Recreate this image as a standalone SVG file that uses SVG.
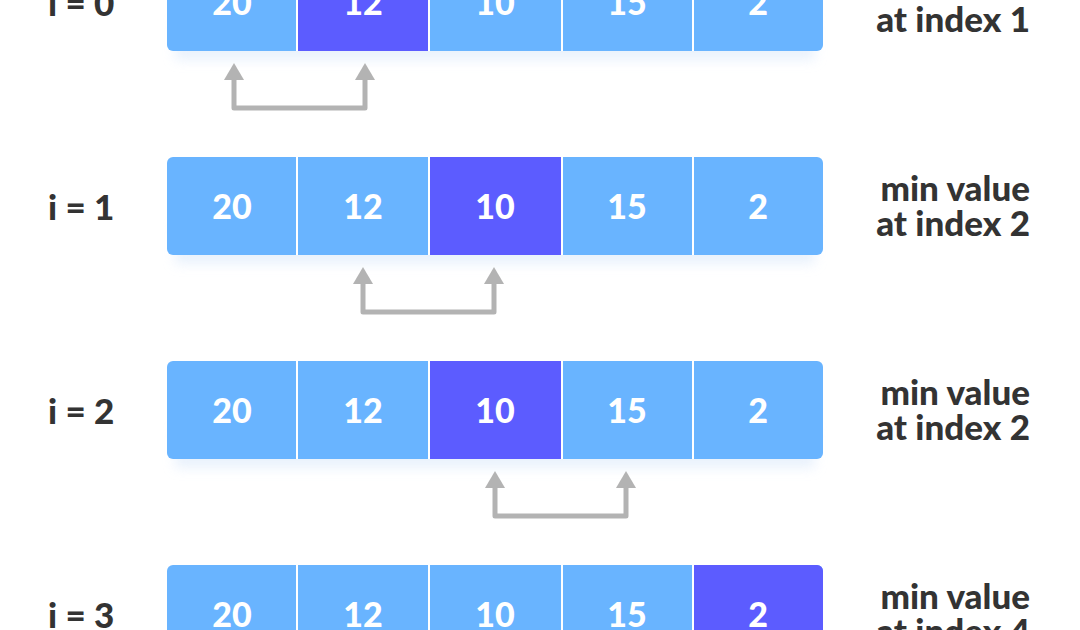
<svg xmlns="http://www.w3.org/2000/svg" width="1080" height="630" viewBox="0 0 1080 630">
<style>
.c{fill:#69b4ff}.m{fill:#5c5cff}
.n{font-family:Lato,"Liberation Sans",sans-serif;font-weight:900;font-size:34px;fill:#fff;text-anchor:middle}
.l{font-family:Lato,"Liberation Sans",sans-serif;font-weight:900;font-size:35px;fill:#333}
.r{text-anchor:end}
.sep{stroke:#fff;stroke-width:2}
.a{fill:none;stroke:#b3b3b3;stroke-width:5;stroke-linejoin:round}
.h{fill:#b3b3b3}
</style>
<defs>
<filter id="sh" x="-10%" y="-20%" width="120%" height="160%"><feGaussianBlur stdDeviation="6"/></filter>
<g id="arr"><path class="a" d="M0,18 V47 H131 V18"/><polygon class="h" points="-10,19 0,2 10,19"/><polygon class="h" points="121,19 131,2 141,19"/></g>
</defs>
<g id="row0" transform="translate(0,-204)">
<rect x="175" y="224" width="640" height="40" fill="#dbe9fb" opacity="0.6" filter="url(#sh)"/>
<rect class="c" x="167" y="157" width="656" height="98" rx="6"/>
<rect class="m" x="297" y="157" width="132" height="98"/>
<g class="sep"><line x1="297" y1="157" x2="297" y2="255"/><line x1="429" y1="157" x2="429" y2="255"/><line x1="562" y1="157" x2="562" y2="255"/><line x1="693" y1="157" x2="693" y2="255"/></g>
<g class="n"><text x="232" y="219">20</text><text x="363" y="219">12</text><text x="495" y="219">10</text><text x="627" y="219">15</text><text x="758" y="219">2</text></g>
<text class="l" x="48" y="220">i = 0</text>
<text class="l r" x="1030" y="201">min value</text><text class="l r" x="1030" y="236">at index 1</text>
</g>
<g id="row1">
<rect x="175" y="224" width="640" height="40" fill="#dbe9fb" opacity="0.6" filter="url(#sh)"/>
<rect class="c" x="167" y="157" width="656" height="98" rx="6"/>
<rect class="m" x="429" y="157" width="133" height="98"/>
<g class="sep"><line x1="297" y1="157" x2="297" y2="255"/><line x1="429" y1="157" x2="429" y2="255"/><line x1="562" y1="157" x2="562" y2="255"/><line x1="693" y1="157" x2="693" y2="255"/></g>
<g class="n"><text x="232" y="219">20</text><text x="363" y="219">12</text><text x="495" y="219">10</text><text x="627" y="219">15</text><text x="758" y="219">2</text></g>
<text class="l" x="48" y="220">i = 1</text>
<text class="l r" x="1030" y="201">min value</text><text class="l r" x="1030" y="236">at index 2</text>
</g>
<g id="row2" transform="translate(0,204)">
<rect x="175" y="224" width="640" height="40" fill="#dbe9fb" opacity="0.6" filter="url(#sh)"/>
<rect class="c" x="167" y="157" width="656" height="98" rx="6"/>
<rect class="m" x="429" y="157" width="133" height="98"/>
<g class="sep"><line x1="297" y1="157" x2="297" y2="255"/><line x1="429" y1="157" x2="429" y2="255"/><line x1="562" y1="157" x2="562" y2="255"/><line x1="693" y1="157" x2="693" y2="255"/></g>
<g class="n"><text x="232" y="219">20</text><text x="363" y="219">12</text><text x="495" y="219">10</text><text x="627" y="219">15</text><text x="758" y="219">2</text></g>
<text class="l" x="48" y="220">i = 2</text>
<text class="l r" x="1030" y="201">min value</text><text class="l r" x="1030" y="236">at index 2</text>
</g>
<g id="row3" transform="translate(0,408)">
<rect class="c" x="167" y="157" width="656" height="98" rx="6"/>
<path class="m" d="M693,157 H817 A6,6 0 0 1 823,163 V255 H693 Z"/>
<g class="sep"><line x1="297" y1="157" x2="297" y2="255"/><line x1="429" y1="157" x2="429" y2="255"/><line x1="562" y1="157" x2="562" y2="255"/><line x1="693" y1="157" x2="693" y2="255"/></g>
<g class="n"><text x="232" y="219">20</text><text x="363" y="219">12</text><text x="495" y="219">10</text><text x="627" y="219">15</text><text x="758" y="219">2</text></g>
<text class="l" x="48" y="220">i = 3</text>
<text class="l r" x="1030" y="201">min value</text><text class="l r" x="1030" y="236">at index 4</text>
</g>
<g id="connectors">
<use href="#arr" x="234" y="61"/>
<use href="#arr" x="363" y="265"/>
<use href="#arr" x="495" y="469"/>
</g>
</svg>
